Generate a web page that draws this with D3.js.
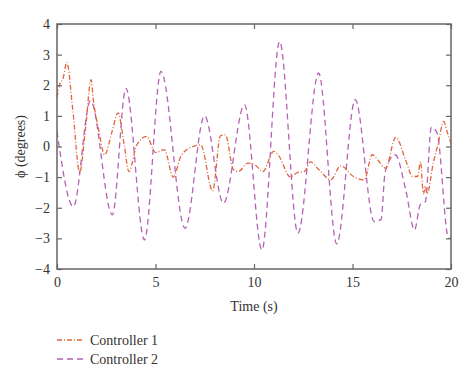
<!DOCTYPE html>
<html><head><meta charset="utf-8">
<script src="https://cdn.jsdelivr.net/npm/d3@7"></script>
<style>body{margin:0;background:#fff}svg{display:block}
svg text{font-family:"Liberation Serif","Times New Roman","DejaVu Serif",serif;fill:#333}</style>
</head><body><svg id="c" width="474" height="381"></svg>
<script>
const xTicks = [0, 5, 10, 15, 20];
const yTicks = [4, 3, 2, 1, 0, -1, -2, -3, -4];
const seriesNames = ["Controller 1", "Controller 2"];

const c1Time = [0, 0.15, 0.3, 0.5, 0.8, 1.15, 1.45, 1.73, 1.85, 2.1, 2.42, 2.8, 3.1, 3.4, 3.65, 4.05, 4.55, 5.0, 5.45, 5.9, 6.3, 6.9, 7.3, 7.9, 8.3, 8.55, 8.95, 9.2, 9.7, 10.05, 10.45, 11.0, 11.25, 11.85, 12.2, 12.55, 12.86, 13.3, 13.9, 14.4, 15.05, 15.6, 16.0, 16.3, 16.67, 17.2, 17.7, 18.05, 18.3, 18.45, 18.6, 18.7, 18.78, 19.1, 19.35, 19.63, 19.8, 20];
const c1Value = [1.6, 2.05, 2.2, 2.75, 1.2, -0.85, 0.6, 2.18, 1.5, 0.6, -0.27, 0.5, 1.1, 0.1, -0.82, 0.05, 0.33, -0.2, -0.1, -1.0, -0.3, 0.0, 0.05, -1.45, 0.35, 0.38, -0.75, -0.82, -0.54, -0.6, -0.82, -0.16, -0.3, -1.0, -0.85, -0.82, -0.5, -0.76, -1.09, -0.63, -0.98, -1.09, -0.27, -0.45, -0.71, 0.3, -0.45, -0.98, -0.98, -0.5, -1.55, -1.3, -1.55, -0.54, 0.1, 0.82, 0.49, 0.1];

const c2Time = [0, 0.83, 1.7, 2.81, 3.5, 4.44, 5.28, 6.5, 7.49, 8.45, 9.52, 10.4, 11.3, 12.23, 13.28, 14.2, 15.14, 16.1, 16.45, 16.66, 17.17, 17.7, 18.15, 18.44, 18.7, 19.0, 19.29, 19.88, 20];
const c2Value = [0.5, -1.96, 1.5, -2.23, 1.9, -3.05, 2.45, -2.67, 1.0, -1.85, 1.36, -3.38, 3.43, -2.83, 2.4, -3.18, 1.53, -2.45, -2.38, -0.82, -0.27, -1.41, -2.72, -1.9, -1.8, 0.63, 0.45, -3.0, -2.98];

const svg = d3.select("#c");
const L = 57, T = 24, W = 394, H = 245;
const x = d3.scaleLinear().domain([0, 20]).range([L, L + W]);
const y = d3.scaleLinear().domain([-4, 4]).range([T + H, T]);
const axisCol = "#666";
const FS = 14;

svg.append("clipPath").attr("id", "pc").append("rect")
  .attr("x", L).attr("y", T).attr("width", W).attr("height", H);

const line = d3.line().x(d => x(d[0])).y(d => y(d[1])).curve(d3.curveMonotoneX);
const d1 = c1Time.map((t, i) => [t, c1Value[i]]);
const d2 = c2Time.map((t, i) => [t, c2Value[i]]);

const g = svg.append("g").attr("clip-path", "url(#pc)");
g.append("path").attr("d", line(d2)).attr("fill", "none")
  .attr("stroke", "#b462b4").attr("stroke-width", 1.3).attr("stroke-dasharray", "6,4");
g.append("path").attr("d", line(d1)).attr("fill", "none")
  .attr("stroke", "#e2643a").attr("stroke-width", 1.3).attr("stroke-dasharray", "5,2,1,2");

function styleAxis(sel) {
  sel.select(".domain").remove();
  sel.selectAll(".tick line").attr("stroke", axisCol).attr("stroke-width", 1.2);
  sel.selectAll(".tick text").attr("font-family", null).attr("font-size", FS).attr("fill", "#333");
}
const axB = svg.append("g").attr("transform", `translate(0,${T + H})`)
  .call(d3.axisBottom(x).tickValues(xTicks).tickSize(-5).tickPadding(8).tickFormat(d3.format("d")));
axB.attr("font-family", null);
styleAxis(axB);
const axT = svg.append("g").attr("transform", `translate(0,${T})`)
  .call(d3.axisTop(x).tickValues(xTicks).tickSize(-5).tickFormat(""));
styleAxis(axT);
const axL = svg.append("g").attr("transform", `translate(${L},0)`)
  .call(d3.axisLeft(y).tickValues(yTicks).tickSize(-5).tickPadding(7).tickFormat(d => d < 0 ? "\u2212" + Math.abs(d) : d));
axL.attr("font-family", null);
styleAxis(axL);
const axR = svg.append("g").attr("transform", `translate(${L + W},0)`)
  .call(d3.axisRight(y).tickValues(yTicks).tickSize(-5).tickFormat(""));
styleAxis(axR);

svg.append("rect").attr("x", L).attr("y", T).attr("width", W).attr("height", H)
  .attr("fill", "none").attr("stroke", axisCol).attr("stroke-width", 1.5);

svg.append("text").attr("x", L + W / 2).attr("y", 311).attr("text-anchor", "middle")
  .attr("font-size", FS).text("Time (s)");
svg.append("text").attr("transform", `translate(25,${T + H / 2}) rotate(-90)`).attr("text-anchor", "middle")
  .attr("font-size", FS).text("\u03d5 (degrees)");

const legend = svg.append("g");
const legendStyles = [
  {stroke: "#e2643a", dash: "5,2,1,2"},
  {stroke: "#b462b4", dash: "6,4"}
];
seriesNames.forEach((name, i) => {
  const yy = 340 + i * 19;
  legend.append("line").attr("x1", 57).attr("x2", 84).attr("y1", yy).attr("y2", yy)
    .attr("stroke", legendStyles[i].stroke).attr("stroke-width", 1.3).attr("stroke-dasharray", legendStyles[i].dash);
  legend.append("text").attr("x", 90).attr("y", yy + 4.5)
    .attr("font-size", FS).text(name);
});
</script></body></html>
